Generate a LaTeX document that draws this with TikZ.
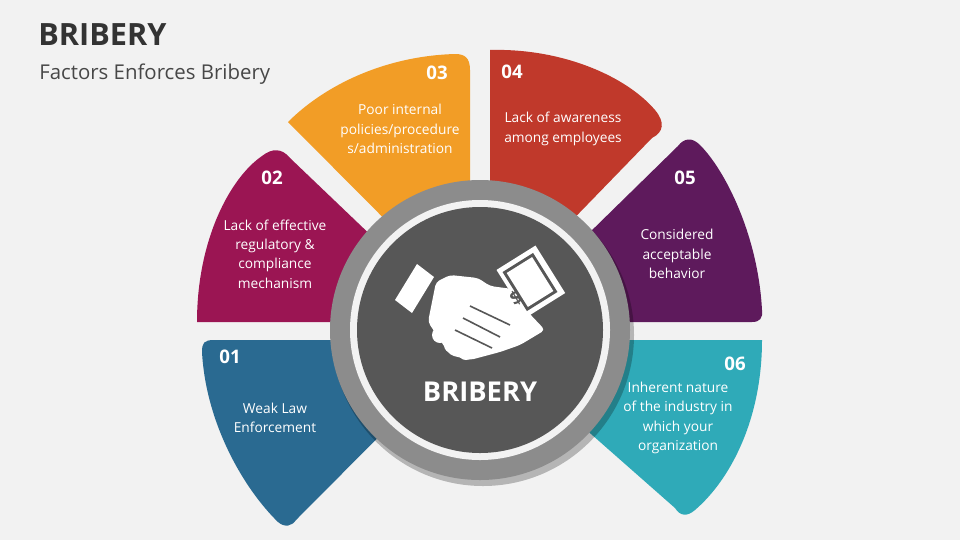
\documentclass[tikz,border=0pt]{standalone}
\usepackage{fontspec}
\setmainfont{Open Sans}
\begin{document}
\begin{tikzpicture}[x=0.75pt,y=-0.75pt,
  num/.style={text=white,font=\fontsize{14}{14}\selectfont\bfseries,inner sep=0pt},
  body/.style={text=white,font=\fontsize{10.3}{14.5}\selectfont,align=center,inner sep=0pt}]
\definecolor{bg}{HTML}{F2F2F2}
\definecolor{cA}{HTML}{2A6A91}
\definecolor{cB}{HTML}{9B1553}
\definecolor{cC}{HTML}{F29D26}
\definecolor{cD}{HTML}{C0392B}
\definecolor{cE}{HTML}{5E1A5C}
\definecolor{cF}{HTML}{2FAAB8}
\definecolor{ring}{HTML}{8C8C8C}
\definecolor{dark}{HTML}{575757}
\fill[bg] (0,0) rectangle (960,540);
\useasboundingbox (0,0) rectangle (960,540);
\node[anchor=west,inner sep=0pt,text=black!80,font=\fontsize{23}{23}\selectfont\bfseries] (title) at (38,35) {BRIBERY};
\node[anchor=west,inner sep=0pt,text=black!72,font=\fontsize{15.3}{15.3}\selectfont] (sub) at (39,74) {Factors Enforces Bribery};
% petals
\fill[cA] (470,340) -- (214,340) .. controls (204,340) and (202,343) .. (202,352) .. controls (206,425) and (245,490) .. (278,522) .. controls (285,528) and (292,526) .. (296,520) -- (470,345) -- cycle;
\fill[cB] (470,322) -- (197,322) .. controls (197,240) and (230,178) .. (262,156) .. controls (272,148) and (282,148) .. (290,158) -- (470,330) -- cycle;
\fill[cC] (470,320) -- (470,70) .. controls (470,58) and (465,54) .. (455,54) .. controls (385,56) and (325,85) .. (288,122) -- (470,305) -- cycle;
\fill[cD] (490,320) -- (490,50) .. controls (560,48) and (625,75) .. (655,110) .. controls (665,122) and (664,132) .. (652,138) -- (490,305) -- cycle;
\fill[cE] (490,322) -- (752,322) .. controls (760,322) and (763,318) .. (762,310) .. controls (758,235) and (725,170) .. (700,145) .. controls (692,137) and (684,138) .. (678,146) -- (490,330) -- cycle;
\fill[cF] (490,340) -- (762,340) .. controls (762,420) and (730,480) .. (695,510) .. controls (687,517) and (680,516) .. (675,508) -- (490,345) -- cycle;
% center
\fill[black,opacity=0.25] (483,335) circle (151);
\fill[ring] (480,330) circle (150);
\fill[bg] (480,330) circle (130);
\fill[dark] (480,330) circle (123);
% icon
\fill[white] (395,300) -- (417,264) -- (434,277) -- (412,313) -- cycle;
\fill[white,rounded corners=3] (436,282) -- (450,275) -- (478,278) -- (490,286) -- (520,290) -- (540,300) -- (528,312) -- (545,330) -- (520,345) -- (500,352) -- (470,360) -- (450,355) -- (440,340) -- (428,322) -- cycle;
\foreach \p in {(440,335),(452,345),(466,352)} \fill[white] \p circle (8);
\fill[white,rounded corners=4] (450,283) -- (466,281) -- (492,287) -- (470,300) -- (452,300) -- cycle;
\fill[white,rotate around={-58:(530,282)}] (502,258) rectangle (558,304);
\fill[dark,rotate around={-58:(530,282)}] (507,264) rectangle (553,300);
\fill[white,rotate around={-58:(530,282)}] (510,267) rectangle (550,297);
\node[text=dark,font=\bfseries\fontsize{14}{14}\selectfont,rotate=30] (dol) at (516,298) {\$};
\draw[dark,line width=1.2pt] (463,318) -- (500,337) (455,330) -- (492,348) (470,306) -- (510,325);
% texts
\node[num] (n1) at (230,357) {01};
\node[body] (t1) at (275,418) {Weak Law\\Enforcement};
\node[num] (n2) at (272,178) {02};
\node[body] (t2) at (275,254) {Lack of effective\\regulatory \&\\compliance\\mechanism};
\node[num] (n3) at (437,73) {03};
\node[body] (t3) at (400,129) {Poor internal\\policies/procedure\\s/administration};
\node[num] (n4) at (512,72) {04};
\node[body] (t4) at (563,129) {Lack of awareness\\among employees};
\node[num] (n5) at (685,178) {05};
\node[body] (t5) at (677,254) {Considered\\acceptable\\behavior};
\node[num] (n6) at (735,364) {06};
\node[body] (t6) at (678,418) {Inherent nature\\of the industry in\\which your\\organization};
\node[text=white,font=\fontsize{20.5}{20.5}\selectfont\bfseries,inner sep=0pt] (ctr) at (480,392) {BRIBERY};
\end{tikzpicture}
\end{document}
